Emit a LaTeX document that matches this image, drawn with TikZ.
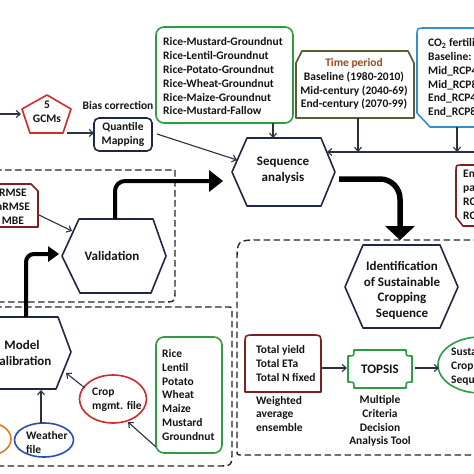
\documentclass[tikz,border=0pt]{standalone}
\usepackage{fontspec}
\setmainfont{Carlito}
\usetikzlibrary{arrows.meta}
\definecolor{navy}{HTML}{1E2745}
\definecolor{arr}{HTML}{2A3142}
\definecolor{gr}{HTML}{2E9B45}
\definecolor{rd}{HTML}{D22B2B}
\definecolor{dred}{HTML}{7E2020}
\definecolor{olive}{HTML}{5E5A33}
\definecolor{brn}{HTML}{9A4A1C}
\definecolor{bl}{HTML}{2E8FD4}
\definecolor{bl2}{HTML}{2A4EAE}
\definecolor{org}{HTML}{E07A22}
\definecolor{dsh}{HTML}{22252E}
\begin{document}
\begin{tikzpicture}[x=1pt,y=-1pt,
  txt/.style={font=\fontsize{11.5}{13.8}\selectfont\bfseries, text=black!92, inner sep=0pt},
  lt/.style={txt, align=left, anchor=west},
  ct/.style={txt, align=center},
  bigt/.style={ct, font=\fontsize{13}{15.6}\selectfont\bfseries},
  conn/.style={draw=arr, line width=1.1pt, -{Straight Barb[length=4pt,width=7pt]}},
  bord/.style={line width=1.6pt, line join=round},
  dashbox/.style={draw=dsh, line width=1.4pt, dash pattern=on 6.5pt off 3.5pt},
  fatline/.style={draw=black, line width=4pt},
]
\useasboundingbox (0,0) rectangle (474,474);
\fill[white] (0,0) rectangle (474,474);
\clip (0,0) rectangle (474,474);

% ---------- dashed regions ----------
\draw[dashbox] (-5,170) -- (175,170) -- (175,290) .. controls (175,302) .. (163,302) -- (-5,302);
\draw[dashbox] (-5,307) -- (228,307) .. controls (232,307) .. (232,311) -- (232,451) .. controls (232,466) .. (217,466) -- (-5,466);
\draw[dashbox] (480,240) -- (260,240) .. controls (237,240) .. (237,263) -- (237,450) .. controls (237,455) .. (242,455) -- (480,455);

% ---------- GCMs ----------
\coordinate (inL) at (0,114);
\coordinate (gcmL) at (21,114);
\draw[rd, bord] (47,95) -- (71,109) -- (63,133) -- (30,133) -- (22,109) -- cycle;
\node[ct] (gcm) at (47,112) {5\\GCMs};
\draw[conn] (inL) -- (gcmL);
\node[ct] (bias) at (118,105) {Bias correction};
\draw[navy, bord, rounded corners=5pt] (94,118) rectangle (152,151);
\node[ct] (qm) at (123,134.5) {Quantile\\Mapping};
\coordinate (gcmR) at (67,133);
\coordinate (qmL) at (94,133);
\draw[conn] (gcmR) -- (qmL);

% ---------- crop sequences ----------
\draw[gr, bord, rounded corners=8pt] (156,27) rectangle (293,123);
\node[lt] (seqlist) at (163,76.5) {Rice-Mustard-Groundnut\\Rice-Lentil-Groundnut\\Rice-Potato-Groundnut\\Rice-Wheat-Groundnut\\Rice-Maize-Groundnut\\Rice-Mustard-Fallow};

% ---------- time period ----------
\draw[olive, bord] (296,118) -- (296,63) -- (302,51) -- (408,51) -- (414,63) -- (414,118) -- cycle;
\node[ct] (time) at (354,84) {{\color{brn}Time period}\\Baseline (1980-2010)\\Mid-century (2040-69)\\End-century (2070-99)};

% ---------- CO2 ----------
\draw[bl, bord] (490,28) -- (425,28) .. controls (417,28) .. (417,36) -- (417,113) -- (430,127) -- (490,127);
\node[lt] (co2) at (428,78) {CO\textsubscript{2} fertilization\\Baseline:\\Mid\_RCP4.5\\Mid\_RCP8.5\\End\_RCP4.5\\End\_RCP8.5};

% ---------- emission ----------
\draw[dred, bord] (490,165) -- (462,165) .. controls (456,165) .. (456,171) -- (456,217) -- (463,226) -- (490,226);
\node[lt] (emis) at (463,194.5) {Emission\\pathways\\RCP4.5\\RCP8.5};

% ---------- sequence analysis ----------
\draw[navy, bord] (232,172) -- (247,138) -- (321,138) -- (335,172) -- (321,206) -- (247,206) -- cycle;
\node[bigt] (seq) at (283,170) {Sequence\\analysis};
\coordinate (qmR) at (157,134);
\coordinate (seqUL) at (237,160);
\draw[conn] (qmR) -- (seqUL);
\coordinate (listB) at (273,123);
\coordinate (seqT) at (273,138);
\draw[conn] (listB) -- (seqT);
\coordinate (timeB) at (358,118);
\coordinate (busT) at (358,152);
\draw[conn] (timeB) -- (busT);
\coordinate (co2B) at (457,127);
\coordinate (busC) at (457,152);
\draw[conn] (co2B) -- (busC);
\coordinate (busR) at (480,152);
\coordinate (seqUR) at (327,152);
\draw[conn] (busR) -- (seqUR);

% big arrow to identification
\coordinate (seqR) at (339,179);
\coordinate (bigEnd) at (400,228);
\draw[fatline, line width=5.5pt, rounded corners=20pt] (seqR) -| (bigEnd);
\fill[black] (385,226) -- (415,226) -- (400,240) -- cycle;

% ---------- validation ----------
\draw[dred, bord] (-20,184) -- (31,184) -- (38,191) -- (38,227) -- (-20,227);
\node[ct] (rmse) at (13,206.5) {RMSE\\nRMSE\\MBE};
\draw[navy, bord] (62,256) -- (79,219) -- (153,219) -- (166,256) -- (151,293) -- (80,293) -- cycle;
\node[bigt] (valid) at (112,256) {Validation};
\coordinate (rmseR) at (39,215);
\coordinate (valUL) at (72,231);
\draw[conn] (rmseR) -- (valUL);
\coordinate (valT) at (115,219);
\coordinate (valA) at (211,181);
\draw[fatline, rounded corners=10pt] (valT) |- (valA);
\fill[black] (209,170) -- (223,181) -- (209,192) -- cycle;

% ---------- model calibration ----------
\draw[navy, bord] (-27,352) -- (-14,317) -- (58,317) -- (71,352) -- (56,389) -- (-14,389) -- cycle;
\node[bigt] (model) at (22,353) {Model\\Calibration};
\coordinate (modT) at (26,317);
\coordinate (modA) at (50,254);
\draw[fatline, rounded corners=8pt] (modT) |- (modA);
\fill[black] (48,246) -- (59,254) -- (48,262) -- cycle;

\draw[org, bord] (-10,439) ellipse [x radius=21, y radius=16];
\draw[bl2, bord] (44,440) ellipse [x radius=29.5, y radius=17];
\node[lt] (weather) at (26,442.5) {Weather\\file};
\coordinate (weaT) at (41,423);
\coordinate (modB) at (41,390);
\draw[conn] (weaT) -- (modB);

\draw[rd, bord] (113,399) ellipse [x radius=33.5, y radius=24];
\node[lt] (cropm) at (92,399.5) {Crop\\mgmt. file};
\coordinate (cropL) at (85,388);
\coordinate (modLR) at (66,373);
\draw[conn] (cropL) -- (modLR);

\draw[gr, bord, rounded corners=8pt] (156,337) rectangle (222,453);
\node[lt] (crops) at (162,395) {Rice\\Lentil\\Potato\\Wheat\\Maize\\Mustard\\Groundnut};
\coordinate (cropsBL) at (156,447);
\coordinate (cropR) at (128,422);
\draw[conn] (cropsBL) -- (cropR);

% ---------- identification ----------
\draw[navy, bord] (345,287) -- (363,245) -- (440,245) -- (458,287) -- (440,328) -- (363,328) -- cycle;
\node[bigt] (ident) at (402,290.5) {Identification\\of Sustainable\\Cropping\\Sequence};

\draw[dred, bord] (245,392) -- (245,344) .. controls (245,335) .. (254,335) -- (312,335) .. controls (321,335) .. (321,344) -- (321,392) -- cycle;
\node[lt] (tot) at (256,363.5) {Total yield\\Total ETa\\Total N fixed};
\node[lt] (wae) at (256,414) {Weighted\\average\\ensemble};

\draw[gr, bord] (354,350) -- (406,350) .. controls (406,356) .. (412,356) -- (412,382) .. controls (406,382) .. (406,388) -- (354,388) .. controls (354,382) .. (348,382) -- (348,356) .. controls (354,356) .. (354,350) -- cycle;
\node[bigt] (topsis) at (380,369) {TOPSIS};
\node[ct] (mcda) at (380,421) {Multiple\\Criteria\\Decision\\Analysis Tool};
\coordinate (totR) at (322,368);
\coordinate (topL) at (347,368);
\draw[conn] (totR) -- (topL);

\draw[gr, bord] (480,365) ellipse [x radius=42, y radius=28];
\node[lt] (sust) at (451,366.5) {Sustainable\\Cropping\\Sequence};
\coordinate (topR) at (415,368);
\coordinate (sustL) at (439,368);
\draw[conn] (topR) -- (sustL);
\end{tikzpicture}
\end{document}
